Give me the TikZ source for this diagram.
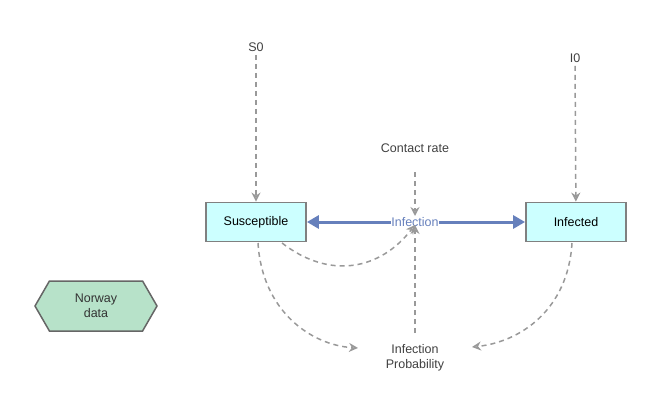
\documentclass[tikz,border=0pt]{standalone}
\usepackage{fontspec}
\setmainfont{Liberation Sans}
\usetikzlibrary{arrows.meta,shapes.symbols}
\definecolor{flowblue}{RGB}{102,128,188}
\definecolor{stockfill}{RGB}{204,255,255}
\definecolor{datafill}{RGB}{183,226,201}
\tikzset{
  stock/.style={draw=black!50, line width=1.8pt, fill=stockfill, minimum width=100pt, minimum height=39pt},
  var/.style={text=black!75, align=center},
  link/.style={draw=black!40, line width=1.5pt, dash pattern=on 5pt off 4pt, -{Stealth[open,length=9pt,width=9pt]}},
  flow/.style={draw=flowblue, line width=3pt, -{Triangle[length=12pt,width=13pt]}}
}
\begin{document}
\begin{tikzpicture}[x=1pt,y=-1pt,font=\fontsize{12.5}{15}\selectfont]
\useasboundingbox (0,0) rectangle (670,404);
\node[var] (s0) at (256,47) {S0};
\node[var] (i0) at (575,58) {I0};
\node[var] (cr) at (415,148) {Contact rate};
\node[stock] (sus) at (256,222) {Susceptible};
\node[stock] (inf) at (576,222) {Infected};
\node[var, text=flowblue, inner sep=0pt] (infl) at (415,222) {Infection};
\node[var] (ip) at (415,358) {Infection\\Probability};
\node[draw=black!60, line width=1.5pt, fill=datafill, align=center,
  signal, signal to=west and east, signal pointer angle=120, minimum width=122pt, minimum height=50pt,
  text=black!80] (nd) at (96,306) {Norway\\data};
\coordinate (hub) at (415,225);
\draw[flow] (infl) -- (sus);
\draw[flow] (infl) -- (inf);
\draw[link] (s0) -- (sus);
\draw[link] (i0) -- (inf);
\draw[link] (415,172) -- (415,216);
\draw[link] (415,333) -- (hub);
\draw[link] (282,243) .. controls (330,280) and (380,270) .. (hub);
\draw[link] (258,243) .. controls (262,310) and (310,345) .. (358,348);
\draw[link] (572,243) .. controls (568,310) and (520,342) .. (472,347);
\end{tikzpicture}
\end{document}
